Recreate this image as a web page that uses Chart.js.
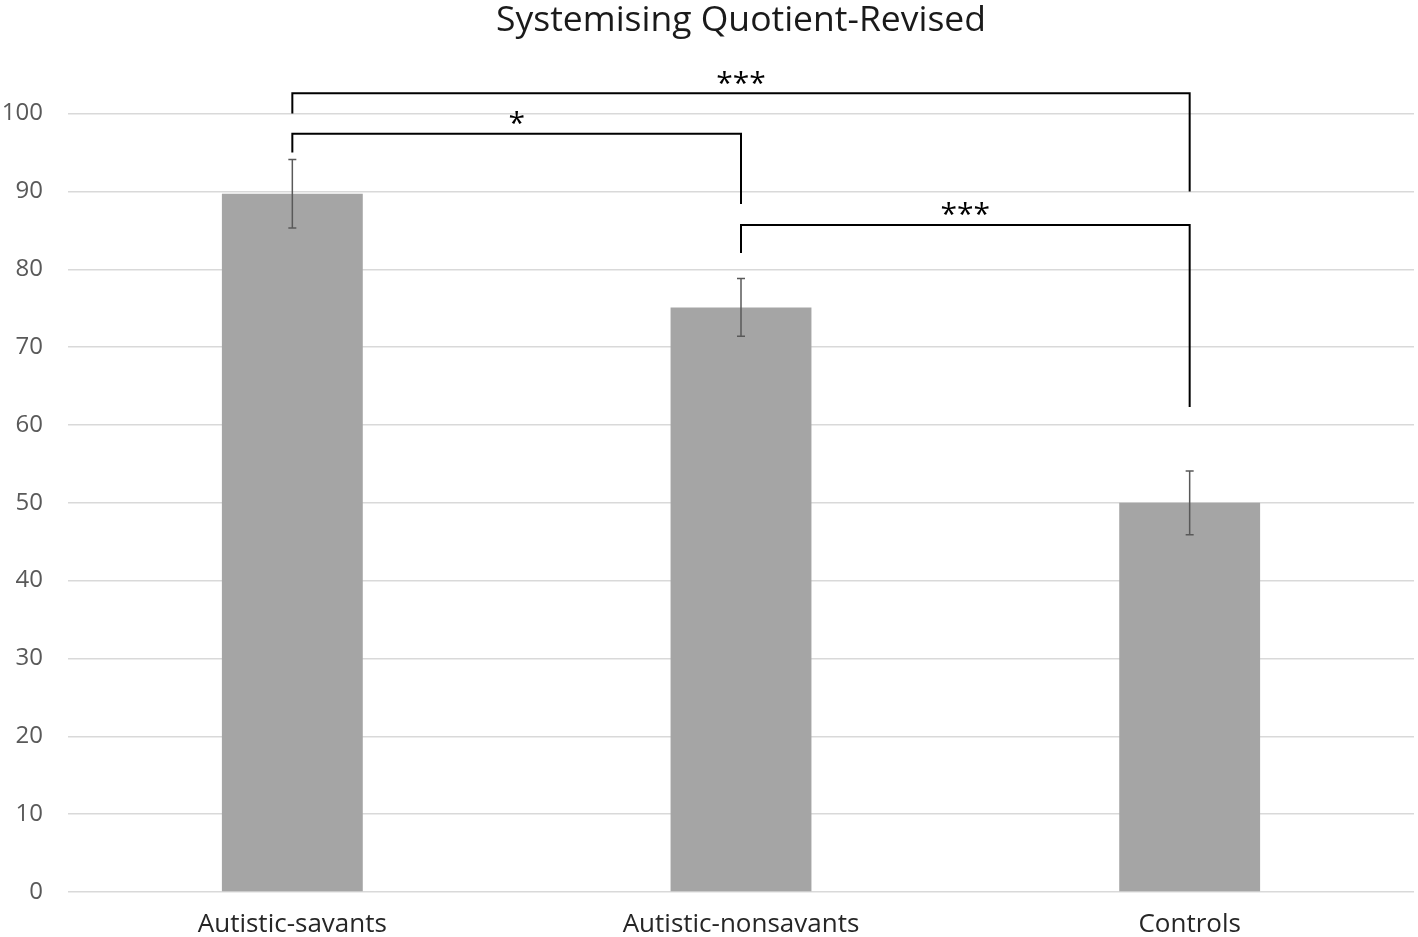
<!DOCTYPE html>
<html>
<head>
<meta charset="utf-8">
<script src="https://cdn.jsdelivr.net/npm/chart.js@4.4.1/dist/chart.umd.min.js"></script>
<style>
  html, body { margin: 0; padding: 0; background: #fff; }
  #wrap { width: 1418px; height: 937px; position: relative; }
</style>
</head>
<body>
<div id="wrap"><canvas id="sqrChart"></canvas></div>
<script>
const groups = ['Autistic-savants', 'Autistic-nonsavants', 'Controls'];
const meanScores = [89.7, 75.1, 50.0];
const errorSizes = [4.4, 3.7, 4.1];
const yTicks = [0, 10, 20, 30, 40, 50, 60, 70, 80, 90, 100];

// significance brackets: from group, to group, bar height, leg ends, stars
const bracketFrom = [0, 0, 1];
const bracketTo = [2, 1, 2];
const bracketTop = [102.6, 97.4, 85.7];
const bracketLeftEnd = [100, 95, 82.1];
const bracketRightEnd = [90, 88.4, 62.3];
const bracketLabels = ['***', '*', '***'];

const FONT = '"Open Sans", "Noto Sans", sans-serif';

// error bars drawn over the bars
const errorBars = {
  id: 'errorBars',
  afterDatasetsDraw(chart) {
    const ctx = chart.ctx;
    const y = chart.scales.y;
    const meta = chart.getDatasetMeta(0);
    ctx.save();
    ctx.strokeStyle = '#595959';
    ctx.lineWidth = 1.5;
    meta.data.forEach((bar, i) => {
      const top = y.getPixelForValue(meanScores[i] + errorSizes[i]);
      const bot = y.getPixelForValue(meanScores[i] - errorSizes[i]);
      ctx.beginPath();
      ctx.moveTo(bar.x, top); ctx.lineTo(bar.x, bot);
      ctx.moveTo(bar.x - 4, top); ctx.lineTo(bar.x + 4, top);
      ctx.moveTo(bar.x - 4, bot); ctx.lineTo(bar.x + 4, bot);
      ctx.stroke();
    });
    ctx.restore();
  }
};

const brackets = {
  id: 'brackets',
  afterDraw(chart) {
    const ctx = chart.ctx;
    const x = chart.scales.x;
    const y = chart.scales.y;
    ctx.save();
    ctx.strokeStyle = '#000';
    ctx.lineWidth = 2;
    ctx.fillStyle = '#000';
    ctx.font = '30px ' + FONT;
    ctx.textAlign = 'center';
    ctx.textBaseline = 'bottom';
    bracketLabels.forEach((lab, i) => {
      const x1 = x.getPixelForValue(bracketFrom[i]);
      const x2 = x.getPixelForValue(bracketTo[i]);
      const yt = y.getPixelForValue(bracketTop[i]);
      ctx.beginPath();
      ctx.moveTo(x1, y.getPixelForValue(bracketLeftEnd[i]));
      ctx.lineTo(x1, yt);
      ctx.lineTo(x2, yt);
      ctx.lineTo(x2, y.getPixelForValue(bracketRightEnd[i]));
      ctx.stroke();
      ctx.fillText(lab, (x1 + x2) / 2, yt + 6);
    });
    ctx.restore();
  }
};

new Chart(document.getElementById('sqrChart'), {
  type: 'bar',
  data: {
    labels: groups,
    datasets: [{
      label: 'SQ-R',
      data: meanScores,
      backgroundColor: '#a5a5a5',
      barPercentage: 0.314,
      categoryPercentage: 1
    }]
  },
  plugins: [errorBars, brackets],
  options: {
    responsive: true,
    maintainAspectRatio: false,
    animation: false,
    layout: { padding: { top: 0, right: 4, bottom: 0, left: 0 } },
    plugins: {
      legend: { display: false },
      tooltip: { enabled: false },
      title: {
        display: true,
        fullSize: false,
        text: 'Systemising Quotient-Revised',
        color: '#1a1a1a',
        font: { family: FONT, size: 35.5, weight: 'normal' },
        padding: { top: 0, bottom: 71 }
      }
    },
    scales: {
      x: {
        afterFit: (scale) => { scale.height = 45; },
        grid: { display: false, drawTicks: false },
        border: { display: false },
        ticks: {
          color: '#262626',
          padding: 17,
          maxRotation: 0,
          font: { family: FONT, size: 26 }
        }
      },
      y: {
        min: 0,
        max: 100,
        afterBuildTicks: (scale) => { scale.ticks = yTicks.map(v => ({ value: v })); },
        afterFit: (scale) => { scale.width = 68; },
        grid: { color: '#d9d9d9', lineWidth: 1.5, drawTicks: false },
        border: { display: false },
        ticks: {
          color: '#595959',
          padding: 25,
          font: { family: FONT, size: 24 }
        }
      }
    }
  }
});
</script>
</body>
</html>
